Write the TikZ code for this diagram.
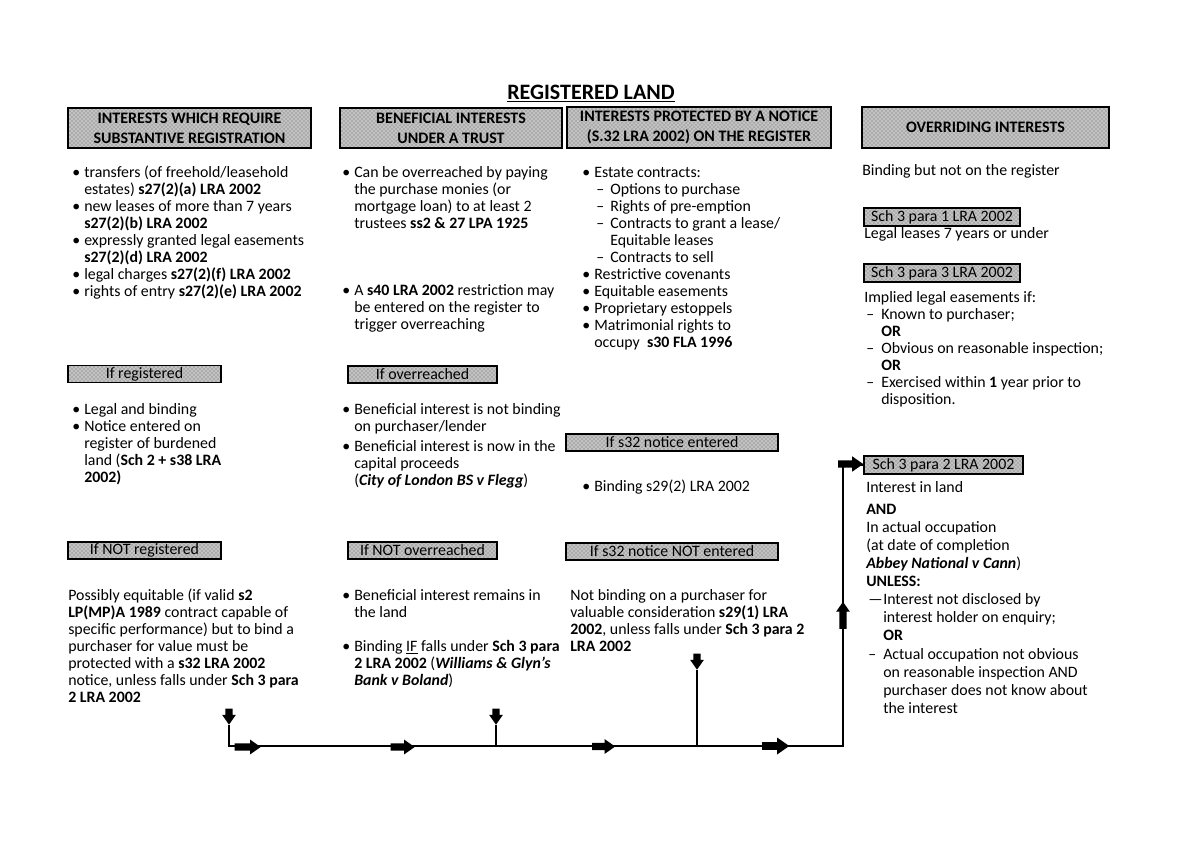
\documentclass[tikz,border=0pt]{standalone}
\usepackage{fontspec}
\setmainfont{Carlito}
\usetikzlibrary{shapes.arrows,patterns}
\newcommand{\mybul}{\makebox[9pt][l]{\textbullet}}
\newcommand{\myind}{\hspace*{9pt}}
\newcommand{\mydash}{\hspace*{10.5pt}\makebox[10.5pt][l]{–}}
\newcommand{\mydashind}{\hspace*{21pt}}
\newcommand{\mydashb}{\makebox[12.75pt][l]{\hspace{1.5pt}–}}
\newcommand{\myemdash}{\makebox[12.75pt][l]{\hspace{1.5pt}—}}
\newcommand{\mydashbind}{\hspace*{12.75pt}}
\begin{document}
\begin{tikzpicture}[x=0.75pt,y=-0.75pt,
  stip/.style={draw=black, preaction={fill=black!24}, pattern=crosshatch dots, pattern color=black!60, inner sep=0pt},
  hbox/.style={stip, line width=1.2pt, align=center, font=\bfseries\fontsize{12pt}{15pt}\selectfont},
  sbox/.style={stip, line width=0.9pt, font=\fontsize{11.9pt}{12.75pt}\selectfont, minimum height=12.75pt},
  body/.style={anchor=base west, inner sep=0pt, text width=#1, align=flush left, font=\fontsize{11.9pt}{12.75pt}\selectfont},
  bodyb/.style={anchor=base west, inner sep=0pt, text width=#1, align=flush left, font=\fontsize{11.9pt}{13.6pt}\selectfont},
  blk/.style={single arrow, fill=black, draw=none, inner xsep=0pt, inner ysep=2.6pt, single arrow head indent=0pt, single arrow tip angle=70},
  conn/.style={draw=black, line width=1pt}
]
\useasboundingbox (0,0) rectangle (1200,849);
\fill[white] (0,0) rectangle (1200,849);

% title
\node[anchor=base, inner sep=0pt, font=\bfseries\fontsize{16.5pt}{18pt}\selectfont] (title) at (591,99) {\underline{REGISTERED LAND}};

% header boxes
\node[hbox, minimum width=243*0.75pt, minimum height=40*0.75pt] (h1) at (189.5,128) {INTERESTS WHICH REQUIRE\\SUBSTANTIVE REGISTRATION};
\node[hbox, minimum width=222*0.75pt, minimum height=40*0.75pt] (h2) at (451,128) {BENEFICIAL INTERESTS\\UNDER A TRUST};
\node[hbox, minimum width=264*0.75pt, minimum height=41*0.75pt] (h3) at (699,127.5) {INTERESTS PROTECTED BY A NOTICE\\(S.32 LRA 2002) ON THE REGISTER};
\node[hbox, minimum width=247*0.75pt, minimum height=41*0.75pt] (h4) at (985.5,127.5) {OVERRIDING INTERESTS};

% column 1
\node[body=205pt] (c1a) at (72,177) {\mybul transfers (of freehold/leasehold\\
\myind estates) \textbf{s27(2)(a) LRA 2002}\\
\mybul new leases of more than 7 years\\
\myind\textbf{s27(2)(b) LRA 2002}\\
\mybul expressly granted legal easements\\
\myind\textbf{s27(2)(d) LRA 2002}\\
\mybul legal charges \textbf{s27(2)(f) LRA 2002}\\
\mybul rights of entry \textbf{s27(2)(e) LRA 2002}};
\node[sbox, minimum width=153*0.75pt] (r1) at (144.5,374) {If registered};
\node[body=205pt] (c1b) at (72,414) {\mybul Legal and binding\\
\mybul Notice entered on\\
\myind register of burdened\\
\myind land (\textbf{Sch 2 + s38 LRA}\\
\myind\textbf{2002)}};
\node[sbox, minimum width=153*0.75pt] (r2) at (144.5,550.5) {If NOT registered};
\node[body=215pt] (c1c) at (68,600) {Possibly equitable (if valid \textbf{s2}\\
\textbf{LP(MP)A 1989} contract capable of\\
specific performance) but to bind a\\
purchaser for value must be\\
protected with a \textbf{s32 LRA 2002}\\
notice, unless falls under \textbf{Sch 3 para}\\
\textbf{2 LRA 2002}};

% column 2
\node[body=195pt] (c2a) at (342,177) {\mybul Can be overreached by paying\\
\myind the purchase monies (or\\
\myind mortgage loan) to at least 2\\
\myind trustees \textbf{ss2 \& 27 LPA 1925}};
\node[body=195pt] (c2b) at (342,295) {\mybul A \textbf{s40 LRA 2002} restriction may\\
\myind be entered on the register to\\
\myind trigger overreaching};
\node[sbox, minimum width=149*0.75pt] (o1) at (422.5,374.5) {If overreached};
\node[body=195pt] (c2c) at (342,414) {\mybul Beneficial interest is not binding\\
\myind on purchaser/lender};
\node[body=195pt] (c2d) at (342,451) {\mybul Beneficial interest is now in the\\
\myind capital proceeds\\
\myind(\textbf{\textit{City of London BS v Flegg}})};
\node[sbox, minimum width=149*0.75pt] (o2) at (422.5,550.5) {If NOT overreached};
\node[body=195pt] (c2e) at (342,600) {\mybul Beneficial interest remains in\\
\myind the land};
\node[body=195pt] (c2f) at (342,651) {\mybul Binding \underline{IF} falls under \textbf{Sch 3 para}\\
\myind\textbf{2 LRA 2002} (\textbf{\textit{Williams \& Glyn's}}\\
\myind\textbf{\textit{Bank v Boland}})};

% column 3
\node[body=215pt] (c3a) at (582,177) {\mybul Estate contracts:\\
\mydash Options to purchase\\
\mydash Rights of pre-emption\\
\mydash Contracts to grant a lease/\\
\mydashind Equitable leases\\
\mydash Contracts to sell\\
\mybul Restrictive covenants\\
\mybul Equitable easements\\
\mybul Proprietary estoppels\\
\mybul Matrimonial rights to\\
\myind occupy\ \ \textbf{s30 FLA 1996}};
\node[sbox, minimum width=212*0.75pt] (n1) at (672,442.5) {If s32 notice entered};
\node[body=215pt] (c3b) at (582,491) {\mybul Binding s29(2) LRA 2002};
\node[sbox, minimum width=212*0.75pt] (n2) at (672,551.5) {If s32 notice NOT entered};
\node[body=215pt] (c3c) at (570,600) {Not binding on a purchaser for\\
valuable consideration \textbf{s29(1) LRA}\\
\textbf{2002}, unless falls under \textbf{Sch 3 para 2}\\
\textbf{LRA 2002}};

% column 4
\node[body=215pt] (c4a) at (862,175) {Binding but not on the register};
\node[sbox, minimum width=156*0.75pt, minimum height=18*0.75pt] (s1) at (942,217) {Sch 3 para 1 LRA 2002};
\node[body=215pt] (c4b) at (864,238) {Legal leases 7 years or under};
\node[sbox, minimum width=156*0.75pt, minimum height=18*0.75pt] (s3) at (942,273) {Sch 3 para 3 LRA 2002};
\node[body=215pt] (c4c) at (864,302) {Implied legal easements if:\\
\mydashb Known to purchaser;\\
\mydashbind\textbf{OR}\\
\mydashb Obvious on reasonable inspection;\\
\mydashbind\textbf{OR}\\
\mydashb Exercised within \textbf{1} year prior to\\
\mydashbind disposition.};
\node[sbox, minimum width=159*0.75pt, minimum height=18*0.75pt] (s2) at (943.5,465) {Sch 3 para 2 LRA 2002};
\node[body=215pt] (c4d) at (866,492) {Interest in land};
\node[bodyb=215pt] (c4e) at (866,514) {\textbf{AND}\\
In actual occupation\\
(at date of completion\\
\textbf{\textit{Abbey National v Cann}})\\
\textbf{UNLESS:}\\
\myemdash Interest not disclosed by\\
\mydashbind interest holder on enquiry;\\
\mydashbind\textbf{OR}\\
\mydashb Actual occupation not obvious\\
\mydashbind on reasonable inspection AND\\
\mydashbind purchaser does not know about\\
\mydashbind the interest};

% block arrows
\node[blk, rotate=-90, minimum height=16*0.75pt, minimum width=13*0.75pt, single arrow head extend=2.3pt] (da1) at (229,714) {};
\node[blk, rotate=-90, minimum height=16*0.75pt, minimum width=13*0.75pt, single arrow head extend=2.3pt] (da2) at (496,714) {};
\node[blk, rotate=-90, minimum height=16*0.75pt, minimum width=13*0.75pt, single arrow head extend=2.3pt] (da3) at (697,659) {};
\node[blk, rotate=90, minimum height=27*0.75pt, minimum width=13*0.75pt, single arrow head extend=2.3pt] (ua) at (843,618) {};
\node[blk, minimum height=25*0.75pt, minimum width=15*0.75pt, single arrow head extend=3pt] (ta) at (848,464) {};

\coordinate (bl) at (229,746);
\coordinate (br) at (843,746);
\draw[conn] (da1.tip) -- (bl) -- (br) |- (s2.west);
\draw[conn] (da2.tip) -- (da2.tip |- bl);
\draw[conn] (da3.tip) -- (da3.tip |- bl);

\node[blk, minimum height=26*0.75pt, minimum width=14*0.75pt, single arrow head extend=2.7pt] (ra1) at (245,747) {};
\node[blk, minimum height=24*0.75pt, minimum width=14*0.75pt, single arrow head extend=2.7pt] (ra2) at (400,747) {};
\node[blk, minimum height=23*0.75pt, minimum width=14*0.75pt, single arrow head extend=2.7pt] (ra3) at (601,746.5) {};
\node[blk, minimum height=27*0.75pt, minimum width=17*0.75pt, single arrow head extend=3.4pt] (ra4) at (773,746) {};
\end{tikzpicture}
\end{document}
